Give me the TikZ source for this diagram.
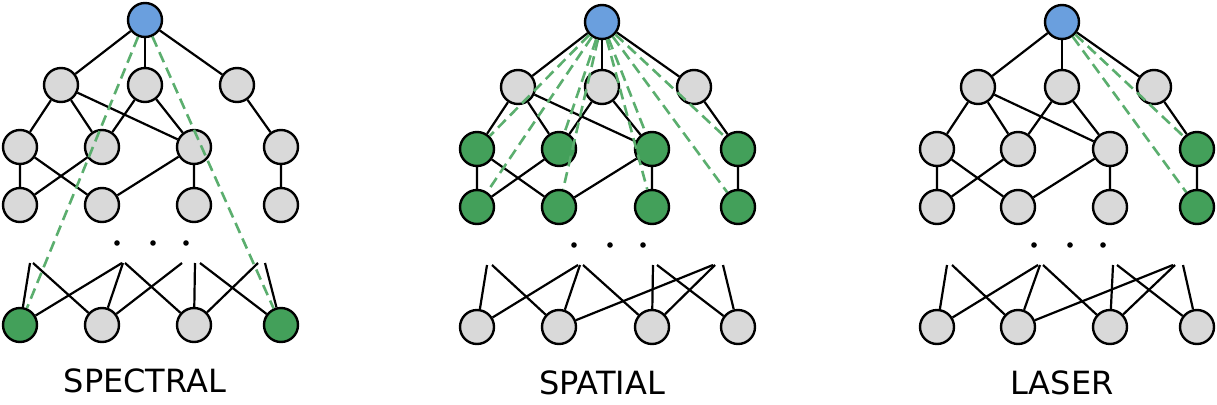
\documentclass[tikz,border=0pt]{standalone}
\usepackage{fontspec}
\setmainfont{DejaVu Sans}
\definecolor{cgray}{HTML}{D9D9D9}
\definecolor{cgreen}{HTML}{43A05A}
\definecolor{cblue}{HTML}{6A9FDE}
\definecolor{cdash}{HTML}{5BAE6E}
\tikzset{nd/.style={circle,draw=black,line width=2.4pt,minimum size=34pt,inner sep=0pt},
 ed/.style={line width=2.2pt},
 gdash/.style={draw=cdash,line width=2.6pt,dash pattern=on 11pt off 6pt},
 lbl/.style={font=\fontsize{32}{36}\selectfont}}
\newcommand\panel[8]{%
\begin{scope}[xshift=#1]
\node[nd,fill=cblue] (#2r) at (145,20) {};
\foreach \x [count=\i] in {61,145,237} \node[nd,fill=cgray] (#2a\i) at (\x,85) {};
\foreach \x/\c [count=\i] in {#4} \node[nd,fill=\c] (#2b\i) at (\x,147) {};
\foreach \x/\c [count=\i] in {#5} \node[nd,fill=\c] (#2c\i) at (\x,205) {};
\foreach \x/\c [count=\i] in {#6} \node[nd,fill=\c] (#2d\i) at (\x,325) {};
\foreach \i in {1,2,3} \draw[ed] (#2r) -- (#2a\i);
\draw[ed] (#2a1)--(#2b1) (#2a1)--(#2b2) (#2a1)--(#2b3) (#2a2)--(#2b2) (#2a2)--(#2b3) (#2a3)--(#2b4);
\draw[ed] (#2b1)--(#2c1) (#2b1)--(#2c2) (#2b2)--(#2c1) (#2b3)--(#2c2) (#2b3)--(#2c3) (#2b4)--(#2c4);
\foreach \x [count=\i] in {117,153,186} \fill (\x,243) circle (2.8pt);
\foreach \x/\t [count=\i] in {#7} {\coordinate (#2s\i) at (\x,263); \draw[ed] (#2s\i) -- (#2d\t);}
\foreach \t in {#8} \draw[gdash] (#2r) -- (#2\t);
\node[lbl] (#2lab) at (145,381) {#3};
\end{scope}}
\begin{document}
\begin{tikzpicture}[x=1pt,y=-1pt]
\useasboundingbox (0,0) rectangle (1217,404);
\panel{0pt}{p}{SPECTRAL}{20/cgray,102/cgray,194/cgray,281/cgray}{20/cgray,102/cgray,194/cgray,281/cgray}{20/cgreen,102/cgray,194/cgray,281/cgreen}{30/1,33/2,122/1,123/2,125/3,182/2,195/3,200/4,258/3,265/4}{d1,d4}
\begin{scope}[yshift=-2pt]
\panel{457pt}{q}{SPATIAL}{20/cgreen,102/cgreen,195/cgreen,281/cgreen}{20/cgreen,102/cgreen,195/cgreen,281/cgreen}{20/cgray,102/cgray,195/cgray,281/cgray}{30/1,35/2,121/1,123/2,126/3,196/3,200/4,256/2,258/3,266/4}{b1,c1,b2,c2,b3,c3,b4,c4}
\panel{917pt}{s}{LASER}{20/cgray,101/cgray,193/cgray,280/cgreen}{20/cgray,101/cgray,193/cgray,280/cgreen}{20/cgray,101/cgray,193/cgray,280/cgray}{30/1,35/2,121/1,123/2,126/3,196/3,200/4,256/2,258/3,266/4}{b4,c4}
\end{scope}
\end{tikzpicture}
\end{document}
